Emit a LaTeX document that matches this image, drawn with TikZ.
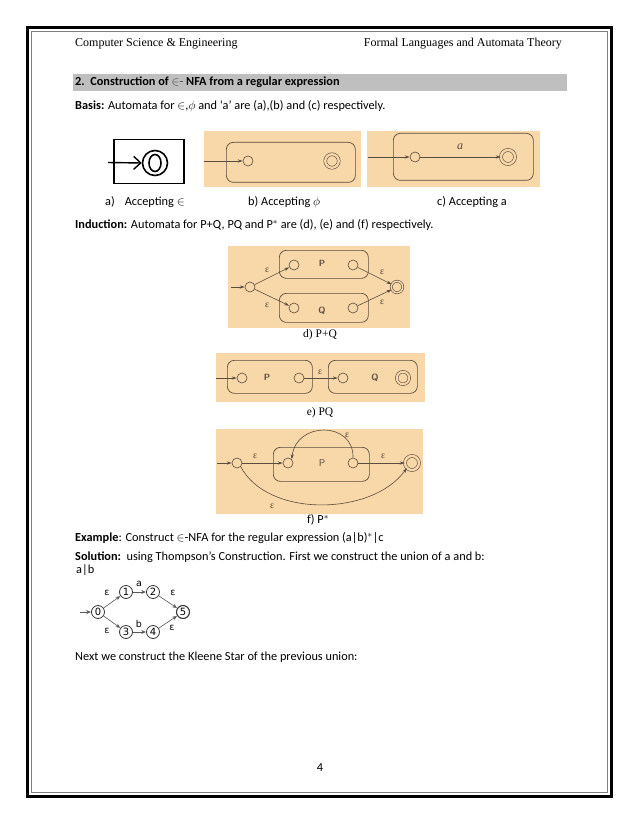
\documentclass[tikz,border=0pt]{standalone}
\usepackage{fontspec}
\setmainfont{Carlito}
\newfontfamily\serf{Liberation Serif}
\newfontfamily\djv{DejaVu Sans}
\usetikzlibrary{arrows.meta,shapes.geometric}
\definecolor{ln}{RGB}{90,76,64}
\definecolor{bgc}{RGB}{248,215,168}
\definecolor{barc}{RGB}{191,191,191}
\definecolor{exl}{RGB}{55,55,55}
\begin{document}
\begin{tikzpicture}[x=1pt,y=-1pt,
  txt/.style={anchor=west, inner sep=0pt, font=\fontsize{12.3}{14}\selectfont},
  hdr/.style={inner sep=0pt, font=\serf\fontsize{12}{14}\selectfont},
  captxt/.style={inner sep=0pt, font=\serf\fontsize{11.5}{13}\selectfont},
  rbox/.style={draw=ln, rounded corners=7pt, line width=0.7pt, anchor=north west, inner sep=0pt},
  st/.style={circle, draw=ln, fill=bgc, line width=0.6pt, minimum size=10pt, inner sep=0pt},
  acc/.style={st, minimum size=13pt, double=bgc, double distance=2.2pt},
  arr/.style={draw=ln, line width=0.6pt, -{Stealth[length=5pt,width=3.2pt]}},
  lab/.style={font=\serf\fontsize{9.5}{10}\selectfont, text=ln!80!black, inner sep=0pt},
  bl/.style={font=\sffamily\bfseries\fontsize{9}{10}\selectfont, text=ln, inner sep=0pt},
  ex/.style={circle, draw=exl, line width=0.8pt, minimum size=13pt, inner sep=0pt, font=\djv\fontsize{10}{10}\selectfont},
  exarr/.style={draw=gray!70!black, line width=0.6pt, -{Stealth[length=4.5pt,width=4pt]}, shorten >=0.3pt},
  exlab/.style={font=\djv\fontsize{9.5}{10}\selectfont, inner sep=0pt},
]
\useasboundingbox (0,0) rectangle (638,826);
\fill[white] (0,0) rectangle (638,826);
% page border
\draw[line width=3pt] (27.5,27.5) rectangle (611.5,796.5);
\draw[gray, line width=1.2pt] (31.5,31.5) rectangle (607.5,792.5);

% header
\node[hdr, anchor=west] (h1) at (75,44) {Computer Science \& Engineering};
\node[hdr, anchor=east] (h2) at (562,44) {Formal Languages and Automata Theory};

% section bar
\fill[barc] (73,74) rectangle (567,91);
\node[txt, font=\bfseries\fontsize{12.3}{14}\selectfont] (sec) at (75,82.5) {2.\ \ Construction of {\mdseries\color{darkgray}$\in$-} NFA from a regular expression};

\node[txt] (basis) at (75,106) {\textbf{Basis:} Automata for $\in$,$\phi$ and ‘a’ are (a),(b) and (c) respectively.};

% (a)
\node[draw, line width=1.5pt, minimum width=70, minimum height=44, anchor=north west, inner sep=0pt] (boxa) at (113,139) {};
\node[circle, draw, line width=1.6pt, minimum size=25, inner sep=0pt] (fa) at (155,163) {};
\node[ellipse, draw, line width=1.6pt, minimum width=12, minimum height=17, inner sep=0pt] (fai) at (fa) {};
\coordinate (a0) at (108,162.5);
\draw[line width=1.4pt, -{Straight Barb[length=7pt,width=13pt,line width=1.4pt]}] (a0) -- (fa.west);

% (b)
\fill[bgc] (204,131) rectangle (361,187);
\node[rbox, minimum width=129, minimum height=40] (rb) at (226,142) {};
\coordinate (b0) at (204,161);
\node[st] (b1) at (248,161) {};
\node[acc, minimum size=13.5pt, double distance=2.3pt] (b2) at (332,161) {};
\draw[arr] (b0) -- (b1);

% (c)
\fill[bgc] (367,131) rectangle (540,187);
\node[rbox, minimum width=140, minimum height=47] (rc) at (393,133) {};
\coordinate (c0) at (368,157);
\node[st] (c1) at (415,157) {};
\node[acc, minimum size=14pt, double distance=2.4pt] (c2) at (508,157) {};
\draw[arr] (c0) -- (c1);
\draw[arr] (c1) -- (c2);
\node[font=\serf\itshape\fontsize{12}{13}\selectfont, text=ln, inner sep=0pt] (la) at (460,147) {a};

% captions
\node[txt] (capa) at (105,202) {a)\hspace{10pt}Accepting $\in$};
\node[txt] (capb) at (248,202) {b) Accepting $\phi$};
\node[txt] (capc) at (437,202) {c) Accepting a};

\node[txt] (ind) at (75,225) {\textbf{Induction:} Automata for P+Q, PQ and P$^{*}$ are (d), (e) and (f) respectively.};

% (d) P+Q
\fill[bgc] (228,246) rectangle (410,328);
\node[rbox, minimum width=89, minimum height=28] (dp) at (279,250) {};
\node[rbox, minimum width=89, minimum height=29] (dq) at (279,293) {};
\coordinate (d00) at (231,287);
\node[st] (d0) at (250,287) {};
\node[st] (p1) at (294,265) {};
\node[st] (p2) at (353,265) {};
\node[st] (q1) at (294,308) {};
\node[st] (q2) at (353,308) {};
\node[acc, minimum size=11.5pt, double distance=1.5pt] (df) at (397,287) {};
\node[bl] (dP) at (322,263) {P};
\node[bl] (dQ) at (322,311) {Q};
\draw[arr] (d00) -- (d0);
\draw[arr] (d0) -- (p1);
\draw[arr] (d0) -- (q1);
\draw[arr] (p2) -- (df);
\draw[arr] (q2) -- (df);
\node[lab] (de1) at (267,270) {ε};
\node[lab] (de2) at (267,305) {ε};
\node[lab] (de3) at (382,272) {ε};
\node[lab] (de4) at (382,302) {ε};
\node[captxt] (capd) at (320,335) {d) P+Q};

% (e) PQ
\fill[bgc] (216,353) rectangle (425,402);
\node[rbox, minimum width=85, minimum height=33] (ep) at (227,360) {};
\node[rbox, minimum width=89, minimum height=33] (eq) at (328,360) {};
\coordinate (e00) at (216,378);
\node[st] (e1) at (242,378) {};
\node[st] (e2) at (299,378) {};
\node[st] (e3) at (343,378) {};
\node[acc, minimum size=12.5pt, double distance=2pt] (ef) at (403,378) {};
\node[bl] (eP) at (267,377) {P};
\node[bl] (eQ) at (375,378) {Q};
\draw[arr] (e00) -- (e1);
\draw[arr] (e2) -- (e3);
\node[lab] (ee) at (320,372) {ε};
\node[captxt] (cape) at (320,413) {e) PQ};

% (f) P*
\fill[bgc] (216,429) rectangle (423,514);
\node[rbox, minimum width=96, minimum height=34] (fpb) at (273,447) {};
\coordinate (f00) at (217,463);
\node[st] (fs) at (237,463) {};
\node[st] (fp1) at (288,463) {};
\node[st] (fp2) at (353,463) {};
\node[acc, minimum size=14pt, double distance=2.4pt] (ff) at (412,463) {};
\node[bl, font=\sffamily\fontsize{10}{11}\selectfont] (fP) at (322,463) {P};
\draw[arr] (f00) -- (fs);
\draw[arr] (fs) -- (fp1);
\draw[arr] (fp2) -- (ff);
\draw[arr] (fp2.north) .. controls (354,421) and (296,421) .. (fp1.north east);
\draw[arr] (fs.south east) .. controls (268,518) and (372,516) .. (ff.south west);
\node[lab] (fe1) at (255,456) {ε};
\node[lab] (fe2) at (383,456) {ε};
\node[lab] (fe3) at (347,435) {ε};
\node[lab] (fe4) at (272,506) {ε};
\node[txt, anchor=center] (capf) at (318,520) {f) P$^{*}$};

% example
\node[txt] (exm) at (75,538) {\textbf{Example}: Construct $\in$-NFA for the regular expression (a|b)$^{*}$|c};
\node[txt] (sol) at (75,557) {\textbf{Solution:}\ \ using Thompson's Construction. First we construct the union of a and b:};
\node[txt] (ab) at (76,570) {a|b};

\coordinate (x00) at (80,612);
\node[ex] (s0) at (98,612) {0};
\node[ex] (s1) at (126,592) {1};
\node[ex] (s2) at (153,592) {2};
\node[ex, line width=1.1pt] (s5) at (183,612) {5};
\node[ex] (s3) at (126,632) {3};
\node[ex] (s4) at (153,632) {4};
\draw[exarr] (x00) -- (s0);
\draw[exarr] (s0) -- (s1);
\draw[exarr] (s1) -- (s2);
\draw[exarr] (s2) -- (s5);
\draw[exarr] (s0) -- (s3);
\draw[exarr] (s3) -- (s4);
\draw[exarr] (s4) -- (s5);
\node[exlab] (xe1) at (107,593) {ε};
\node[exlab] (xa) at (139,584) {a};
\node[exlab] (xe2) at (173,593) {ε};
\node[exlab] (xe3) at (107,631) {ε};
\node[exlab] (xb) at (139,624) {b};
\node[exlab] (xe4) at (172,628) {ε};

\node[txt] (next) at (75,657) {Next we construct the Kleene Star of the previous union:};
\node[txt, anchor=center] (pg) at (320,768) {4};
\end{tikzpicture}
\end{document}
